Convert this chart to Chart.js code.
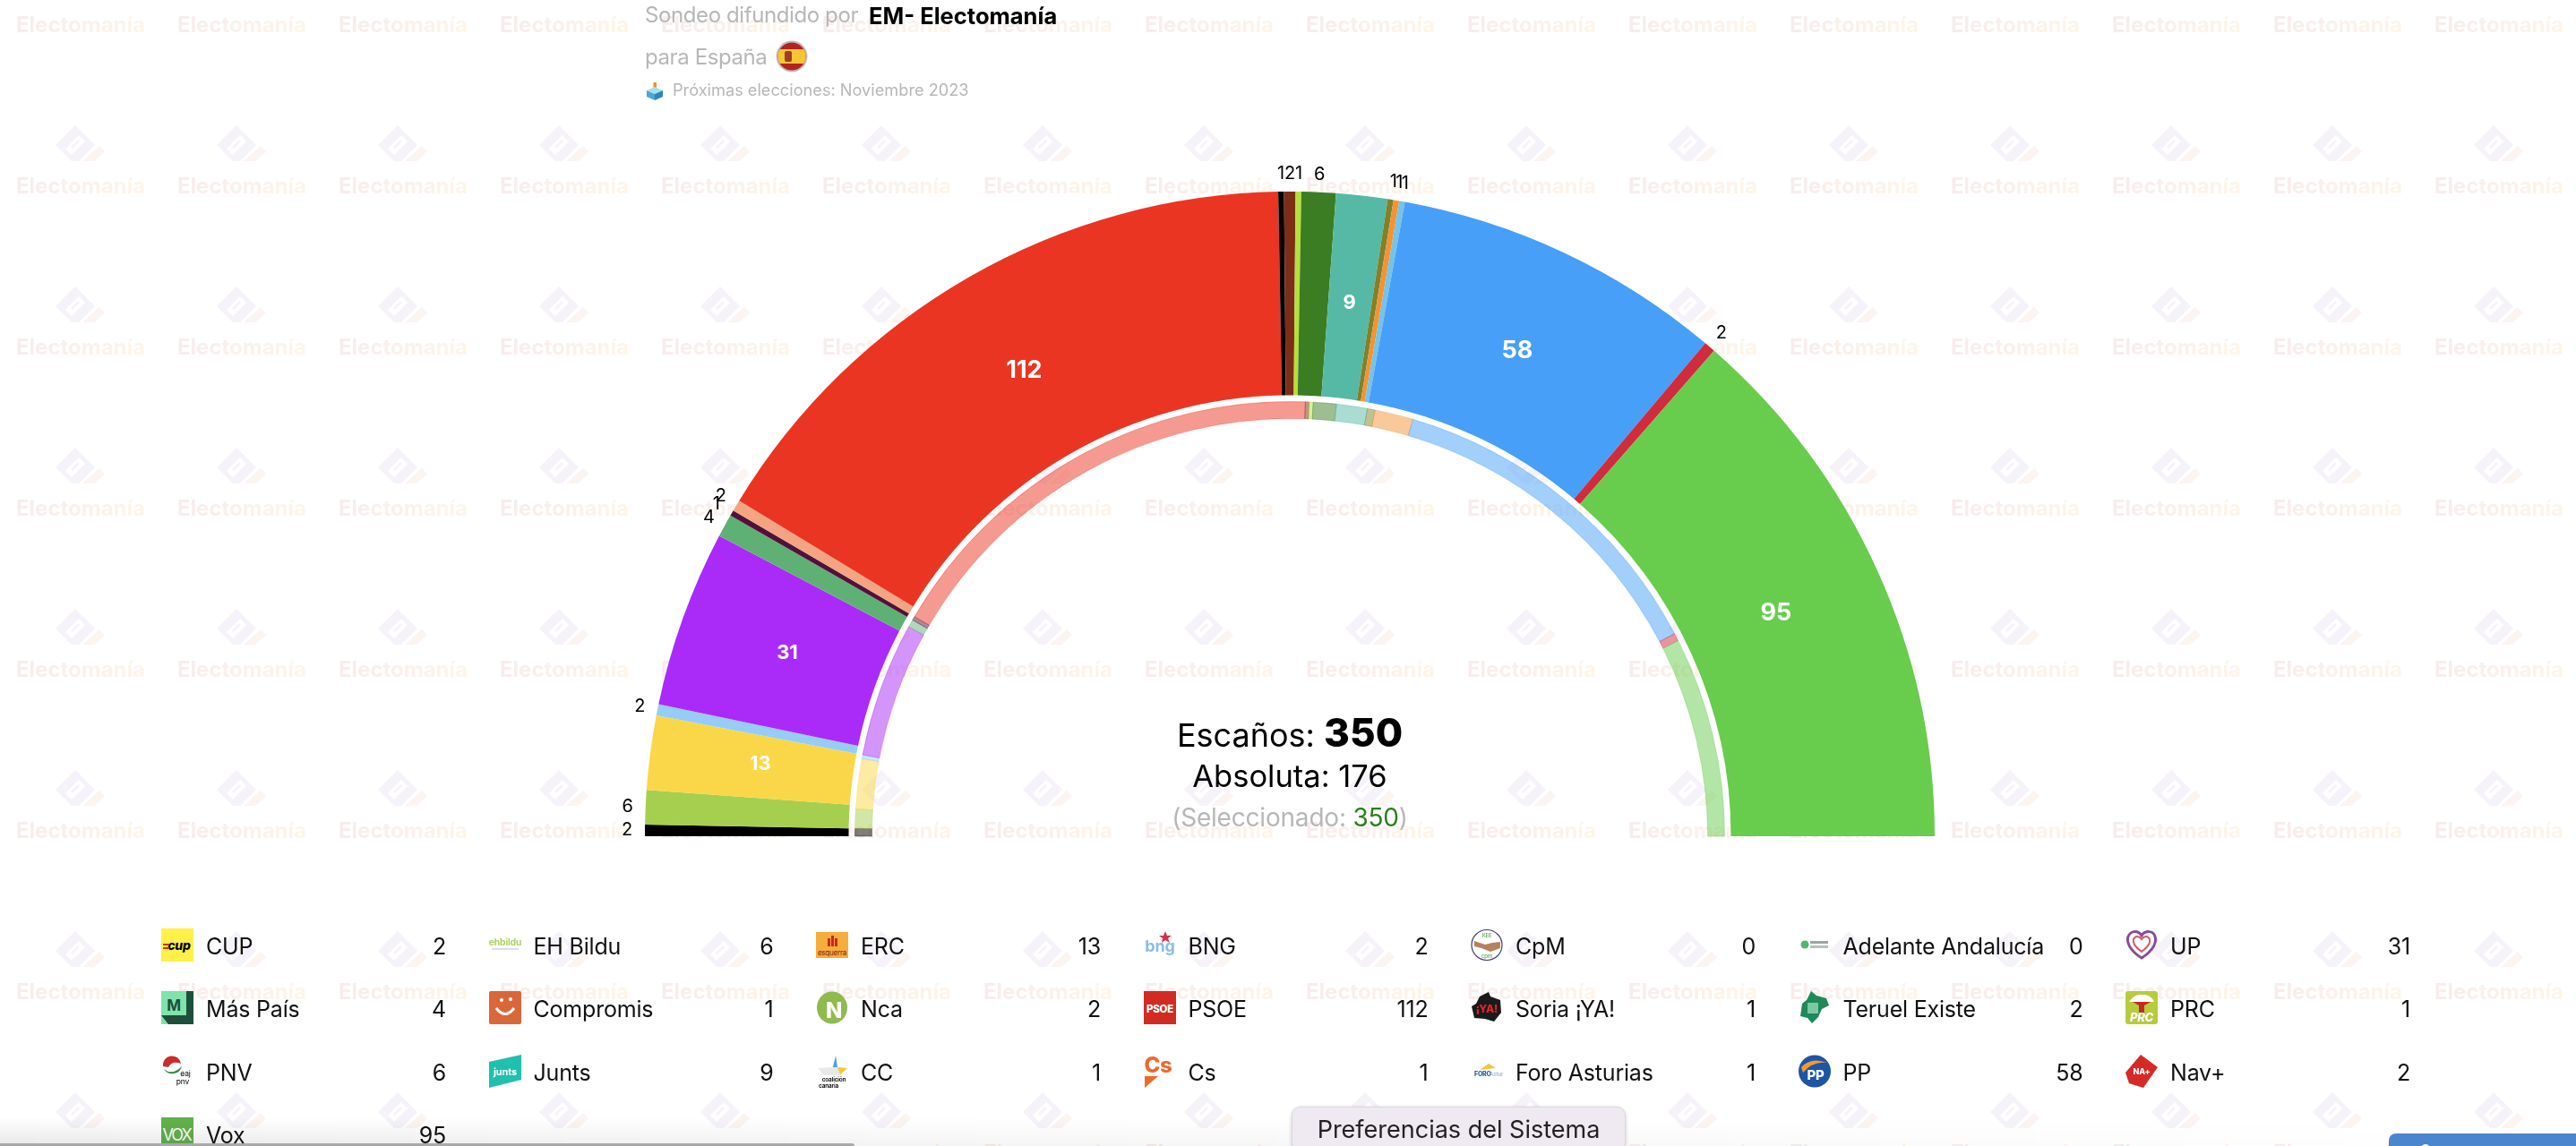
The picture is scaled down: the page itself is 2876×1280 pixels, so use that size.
<!DOCTYPE html>
<html lang="es">
<head>
<meta charset="utf-8">
<title>Sondeo EM- Electomanía</title>
<script src="https://cdn.jsdelivr.net/npm/chart.js@4"></script>
<style>
    html, body { margin: 0; width: 2876px; height: 1280px; overflow: hidden; background: #fff; font-family: Inter, "Liberation Sans", sans-serif; }
    #marca { position: absolute; inset: 0; background-size: 180px 180px; }
    #grafico { position: absolute; left: 0; top: 0; }
    .txt { position: absolute; white-space: nowrap; line-height: 1; }
    .gris { color: #b7b7b7; }
    .centro { left: 1140px; width: 600px; text-align: center; }
    #leyenda { position: absolute; left: 180px; top: 1021px; display: grid; grid-template-columns: repeat(7, 365.5px); grid-auto-rows: 70.3px; }
    .item { position: relative; height: 70.3px; font-size: 25px; letter-spacing: -0.2px; color: #111; }
    .item svg { position: absolute; left: 0; top: 16px; width: 36px; height: 37px; }
    .item .nombre { position: absolute; left: 50px; top: 21px; white-space: nowrap; }
    .item .valor { position: absolute; left: 218px; width: 100px; top: 21px; text-align: right; }
    #sombra { position: absolute; left: 0; right: 0; top: 1248px; height: 32px; background: linear-gradient(90deg, rgba(0,0,0,.09), rgba(0,0,0,.045) 35%, rgba(0,0,0,.02) 70%, rgba(0,0,0,0) 100%); -webkit-mask-image: linear-gradient(180deg, transparent, #000); }
    #linea { position: absolute; left: 0; width: 954px; top: 1277px; height: 3px; background: #a9a9a9; border-radius: 0 3px 0 0; }
    #preferencias { position: absolute; left: 1442px; top: 1236px; width: 373px; height: 50px; box-sizing: border-box; background: #efeaf1; border: 1px solid #dcd8de; border-radius: 10px; box-shadow: 0 1px 4px rgba(0,0,0,.2); font-size: 27px; color: #222; text-align: center; line-height: 50px; }
    #boton { position: absolute; left: 2667px; top: 1266px; right: 0; height: 20px; background: #4b86cd; border-radius: 8px 0 0 0; }
    #boton i { position: absolute; left: 36px; top: 12px; width: 10px; height: 10px; border-radius: 50%; background: #fff; }
</style>
</head>
<body>
<div id="marca"></div>
<canvas id="grafico" width="2876" height="1280"></canvas>

<div class="txt gris" style="left:720px;top:5px;font-size:24px;letter-spacing:-0.4px">Sondeo difundido por</div>
<div class="txt" style="left:970px;top:5px;font-size:25.5px;font-weight:700;color:#000">EM- Electomanía</div>
<div class="txt gris" style="left:720px;top:52px;font-size:24px;letter-spacing:-0.4px">para España</div>
<svg style="position:absolute;left:866px;top:45px" width="36" height="36" viewBox="0 0 36 36">
    <circle cx="18" cy="18" r="17.5" fill="#bdbdbd"/>
    <clipPath id="bandera"><circle cx="18" cy="18" r="15.5"/></clipPath>
    <g clip-path="url(#bandera)">
        <rect width="36" height="36" fill="#b3241f"/>
        <rect y="10" width="36" height="16" fill="#f5c534"/>
        <rect x="10" y="12" width="8" height="12" rx="2" fill="#a33b1f"/>
    </g>
</svg>
<svg style="position:absolute;left:721px;top:92px" width="20" height="20" viewBox="0 0 20 20">
    <rect x="8.5" y="0" width="3.5" height="9" fill="#f0932b"/>
    <path d="M10 5 L19 9 L10 13 L1 9Z" fill="#a8def2"/>
    <path d="M1 9 L10 13 V20 L1 16Z" fill="#4aa8d8"/>
    <path d="M19 9 L10 13 V20 L19 16Z" fill="#2c86bc"/>
</svg>
<div class="txt gris" style="left:751px;top:91px;font-size:18.2px">Próximas elecciones: Noviembre 2023</div>

<div class="txt centro" style="top:796px;font-size:36px;color:#000">Escaños: <b style="font-size:44px;font-weight:800">350</b></div>
<div class="txt centro" style="top:850px;font-size:34.5px;color:#000">Absoluta: 176</div>
<div class="txt gris centro" style="top:899px;font-size:28px;letter-spacing:-0.2px">(Seleccionado: <span style="color:#2f7d1f">350</span>)</div>

<div id="leyenda"></div>
<div id="sombra"></div>
<div id="linea"></div>
<div id="preferencias">Preferencias del Sistema</div>
<div id="boton"><i></i></div>

<script>
// Partidos, en el orden del hemiciclo (de izquierda a derecha)
const partidos = ['CUP', 'EH Bildu', 'ERC', 'BNG', 'CpM', 'Adelante Andalucía', 'UP', 'Más País', 'Compromis', 'Nca', 'PSOE', 'Soria ¡YA!', 'Teruel Existe', 'PRC', 'PNV', 'Junts', 'CC', 'Cs', 'Foro Asturias', 'PP', 'Nav+', 'Vox'];
// Anillo exterior: sondeo
const escanos = [2, 6, 13, 2, 0, 0, 31, 4, 1, 2, 112, 1, 2, 1, 6, 9, 1, 1, 1, 58, 2, 95];
// Anillo interior
const escanosPrevios = [2, 5, 13, 1, 0, 0, 35, 2, 1, 0, 120, 0, 1, 1, 6, 8, 2, 10, 0, 89, 2, 52];
const colores = ['#000000', '#a6cf50', '#fad748', '#95cdf8', '#9a9a9a', '#5fb075', '#aa2bf8', '#5fb075', '#51123a', '#f3a482', '#eb3523', '#000000', '#7c2e17', '#b5e03c', '#3a7d23', '#56b9a5', '#80812a', '#f39333', '#74c3e8', '#479ff8', '#cf2c3d', '#68cc4d'];

function conAlfa(hex, alfa) {
    const n = parseInt(hex.slice(1), 16);
    return `rgba(${n >> 16}, ${(n >> 8) & 255}, ${n & 255}, ${alfa})`;
}

// Etiquetas de escaños: blancas dentro de los sectores grandes, negras fuera en los pequeños
const etiquetas = {
    id: 'etiquetas',
    afterDatasetsDraw(chart) {
        const ctx = chart.ctx;
        const arcos = chart.getDatasetMeta(0).data;
        ctx.save();
        ctx.textAlign = 'center';
        ctx.textBaseline = 'middle';
        arcos.forEach((arco, i) => {
            const valor = escanos[i];
            if (!valor) return;
            const medio = (arco.startAngle + arco.endAngle) / 2;
            let r, dy = 0;
            if (valor >= 9) {
                r = (arco.innerRadius + arco.outerRadius) / 2 - 10;
                dy = -3;
                ctx.fillStyle = '#fff';
                ctx.font = `700 ${valor >= 50 ? 27 : 22}px Inter`;
            } else {
                r = arco.outerRadius + 20;
                ctx.fillStyle = '#000';
                ctx.font = '20px Inter';
            }
            ctx.fillText(valor, arco.x + Math.cos(medio) * r, arco.y + Math.sin(medio) * r + dy);
        });
        ctx.restore();
    }
};

new Chart(document.getElementById('grafico').getContext('2d'), {
    type: 'doughnut',
    data: {
        labels: partidos,
        datasets: [
            { data: escanos, backgroundColor: colores, borderWidth: 0, hoverBorderWidth: 0, weight: 228 },
            // separación blanca entre los dos anillos
            { data: escanos, backgroundColor: 'rgba(0,0,0,0)', borderWidth: 0, hoverBorderWidth: 0, weight: 7 },
            { data: escanosPrevios, backgroundColor: colores.map(c => conAlfa(c, 0.5)), borderColor: colores.map(c => conAlfa(c, 0.35)), borderWidth: 1, hoverBorderWidth: 1, weight: 19 }
        ]
    },
    options: {
        responsive: false,
        animation: false,
        events: [],
        rotation: -90,
        circumference: 180,
        cutout: '64.8%',
        layout: { padding: { left: 720, right: 716, top: 214, bottom: 346 } },
        plugins: { legend: { display: false }, tooltip: { enabled: false } }
    },
    plugins: [etiquetas]
});

// Marca de agua de fondo
const tesela = `<svg xmlns="http://www.w3.org/2000/svg" width="180" height="180">
<defs><linearGradient id="g"><stop offset="0" stop-color="#f8ecec"/><stop offset="1" stop-color="#fef5e8"/></linearGradient></defs>
<text x="18" y="36" font-family="Inter" font-weight="700" font-size="24" fill="url(#g)" textLength="144">Electomanía</text>
<path d="M84 140 L106 162 L84 184 L62 162Z" fill="#f5f2f9"/>
<path d="M88 151 L95 158 L80 173 L73 166Z" fill="#fff"/>
<path d="M87 156 L89 158 L81 166 L79 164Z" fill="#f5f2f9"/>
<path d="M84 183 L89 189 L114 166" fill="none" stroke="#fbf4f1" stroke-width="9"/>
</svg>`;
document.getElementById('marca').style.backgroundImage = `url("data:image/svg+xml,${encodeURIComponent(tesela)}")`;

// Logotipos aproximados de la leyenda
const logos = {
    'CUP': '<rect width="36" height="37" fill="#fff04a"/><text x="20" y="24" font-size="14" font-weight="800" font-style="italic" text-anchor="middle">cup</text><rect x="2" y="17" width="7" height="2" fill="#c8321e"/><rect x="2" y="21" width="7" height="2" fill="#c8321e"/>',
    'EH Bildu': '<text x="18" y="19" font-size="10.5" fill="#aacb5a" font-weight="600" text-anchor="middle">ehbildu</text><rect x="3" y="22" width="30" height="2" fill="#dcdce8"/>',
    'ERC': '<rect y="4" width="36" height="29" fill="#f7ad3b"/><rect x="13" y="11" width="3" height="9" fill="#c8281e"/><rect x="17" y="8" width="3" height="12" fill="#c8281e"/><rect x="21" y="11" width="3" height="9" fill="#c8281e"/><text x="18" y="30" font-size="8" fill="#7a2010" text-anchor="middle">esquerra</text>',
    'BNG': '<text x="18" y="26" font-size="18" font-weight="700" fill="#8dbde3" text-anchor="middle">bng</text><path d="M24 3 L26 8 L31 8 L27 11 L29 16 L24 13 L20 16 L21 11 L17 8 L22 8Z" fill="#d8304a"/>',
    'CpM': '<circle cx="18" cy="18.5" r="17" fill="#fff" stroke="#3a3f78" stroke-width="1.2"/><path d="M4 14 L16 18 L24 16 L33 15 V22 L22 26 L12 22 L4 20Z" fill="#b9805c"/><text x="18" y="10" font-size="6" fill="#3c9a3c" text-anchor="middle">KEE</text><text x="18" y="33" font-size="6" fill="#3c9a3c" text-anchor="middle">cpm</text>',
    'Adelante Andalucía': '<circle cx="7" cy="18" r="4.5" fill="#4fb86c"/><rect x="13" y="14" width="20" height="3" fill="#9aa69f"/><rect x="13" y="19" width="20" height="3" fill="#b8c0bb"/>',
    'UP': '<path d="M18 33 C4 24 1 15 3 9 C6 2 14 2 18 8 C22 2 31 2 33 9 C35 15 32 24 18 33Z" fill="#fff" stroke="#8a4a9a" stroke-width="3"/><path d="M18 26 C10 20 8 15 9 12 C11 8 15 8 18 12 C21 8 25 8 27 12 C28 15 26 20 18 26Z" fill="#fff" stroke="#d05a6a" stroke-width="2"/>',
    'Más País': '<rect width="36" height="37" fill="#7fe3ab"/><path d="M0 27 L8 37 H36 V0 H28 V27Z" fill="#1d4f3b"/><text x="14" y="22" font-size="17" font-weight="700" fill="#1d4f3b" text-anchor="middle">M</text>',
    'Compromis': '<rect width="36" height="37" rx="2" fill="#d9673a"/><path d="M8 19 Q18 32 28 19" fill="none" stroke="#fff" stroke-width="3"/><circle cx="14" cy="10" r="2" fill="#fff"/><circle cx="24" cy="9" r="2" fill="#fff"/>',
    'Nca': '<ellipse cx="18" cy="18.5" rx="17" ry="18" fill="#8fba4e"/><text x="20" y="30" font-size="24" font-weight="800" fill="#fff" text-anchor="middle">N</text>',
    'PSOE': '<rect width="36" height="37" fill="#d22b22"/><text x="18" y="24" font-size="11.5" font-weight="800" fill="#fff" text-anchor="middle" textLength="30">PSOE</text>',
    'Soria ¡YA!': '<path d="M10 6 L20 1 L22 6 L33 10 L34 24 L26 34 L16 31 L4 30 L1 17 L6 14Z" fill="#1a1a1a"/><text x="18" y="24" font-size="12" font-weight="800" fill="#e8202a" text-anchor="middle">¡YA!</text>',
    'Teruel Existe': '<path d="M14 0 L20 5 L31 8 L34 16 L26 20 L22 29 L15 36 L10 30 L2 28 L4 14 L9 10Z" fill="#1d8a5a"/><rect x="10" y="13" width="12" height="12" fill="#7cc8a2"/>',
    'PRC': '<rect width="36" height="37" rx="3" fill="#b6cc3c"/><path d="M4 12 Q10 3 18 4 Q28 3 32 12Z" fill="#fff"/><path d="M8 12 H28 L21 16 V24 H15 V16Z" fill="#c8281e"/><text x="18" y="34" font-size="13" font-weight="800" font-style="italic" fill="#fff" text-anchor="middle">PRC</text>',
    'PNV': '<path d="M2 13 A10 10 0 0 1 22 10 Q12 6 8 14Z" fill="#cc2b2b"/><path d="M3 16 Q12 24 23 13 A11 11 0 0 1 3 16Z" fill="#2f8c46"/><text x="27" y="24" font-size="8.5" text-anchor="middle">eaj</text><text x="24" y="33" font-size="8.5" text-anchor="middle">pnv</text>',
    'Junts': '<path d="M0 8 L36 0 V28 L0 37Z" fill="#1fc0ad"/><text x="18" y="23" font-size="11" font-weight="700" fill="#fff" text-anchor="middle">junts</text>',
    'CC': '<path d="M18 14 L22 2 L24 14 L35 15 L27 23 H9 L2 15Z" fill="#e8e8e8"/><path d="M22 1 L24 14 L19 14Z" fill="#4aa3df"/><path d="M24 14 L35 15 L27 22Z" fill="#f6c92d"/><text x="20" y="30" font-size="6.5" font-weight="600" text-anchor="middle">coalición</text><text x="14" y="37" font-size="6.5" font-weight="600" text-anchor="middle">canaria</text>',
    'Cs': '<text x="16" y="20" font-size="24" font-weight="800" fill="#ed6a2a" text-anchor="middle">Cs</text><path d="M1 24 H16 L1 37Z" fill="#ed6a2a"/>',
    'Foro Asturias': '<path d="M10 17 L20 10 L28 15Z" fill="#f2c63c"/><text x="4" y="24" font-size="7" font-weight="800" fill="#2a62aa">FORO</text><text x="21" y="24" font-size="6.5" fill="#8aa6c8">Asturias</text>',
    'PP': '<circle cx="18" cy="18.5" r="18" fill="#1d55a5"/><path d="M3 14 Q14 2 32 9 Q16 7 5 20Z" fill="#f19b2c"/><text x="19" y="28" font-size="15" font-weight="800" fill="#fff" text-anchor="middle">PP</text>',
    'Nav+': '<path d="M17 0 L36 14 L20 37 L4 32 L0 20Z" fill="#d62a27"/><text x="18" y="22" font-size="9" font-weight="800" fill="#fff" text-anchor="middle">NA+</text>',
    'Vox': '<rect width="36" height="37" fill="#63b14c"/><text x="18" y="26" font-size="18" fill="#fff" text-anchor="middle" textLength="33">VOX</text>'
};

const leyenda = document.getElementById('leyenda');
partidos.forEach((nombre, i) => {
    const div = document.createElement('div');
    div.className = 'item';
    div.innerHTML = `
        <svg viewBox="0 0 36 37" font-family="Inter">${logos[nombre]}</svg>
        <span class="nombre">${nombre}</span>
        <span class="valor">${escanos[i]}</span>`;
    leyenda.appendChild(div);
});
</script>
</body>
</html>
